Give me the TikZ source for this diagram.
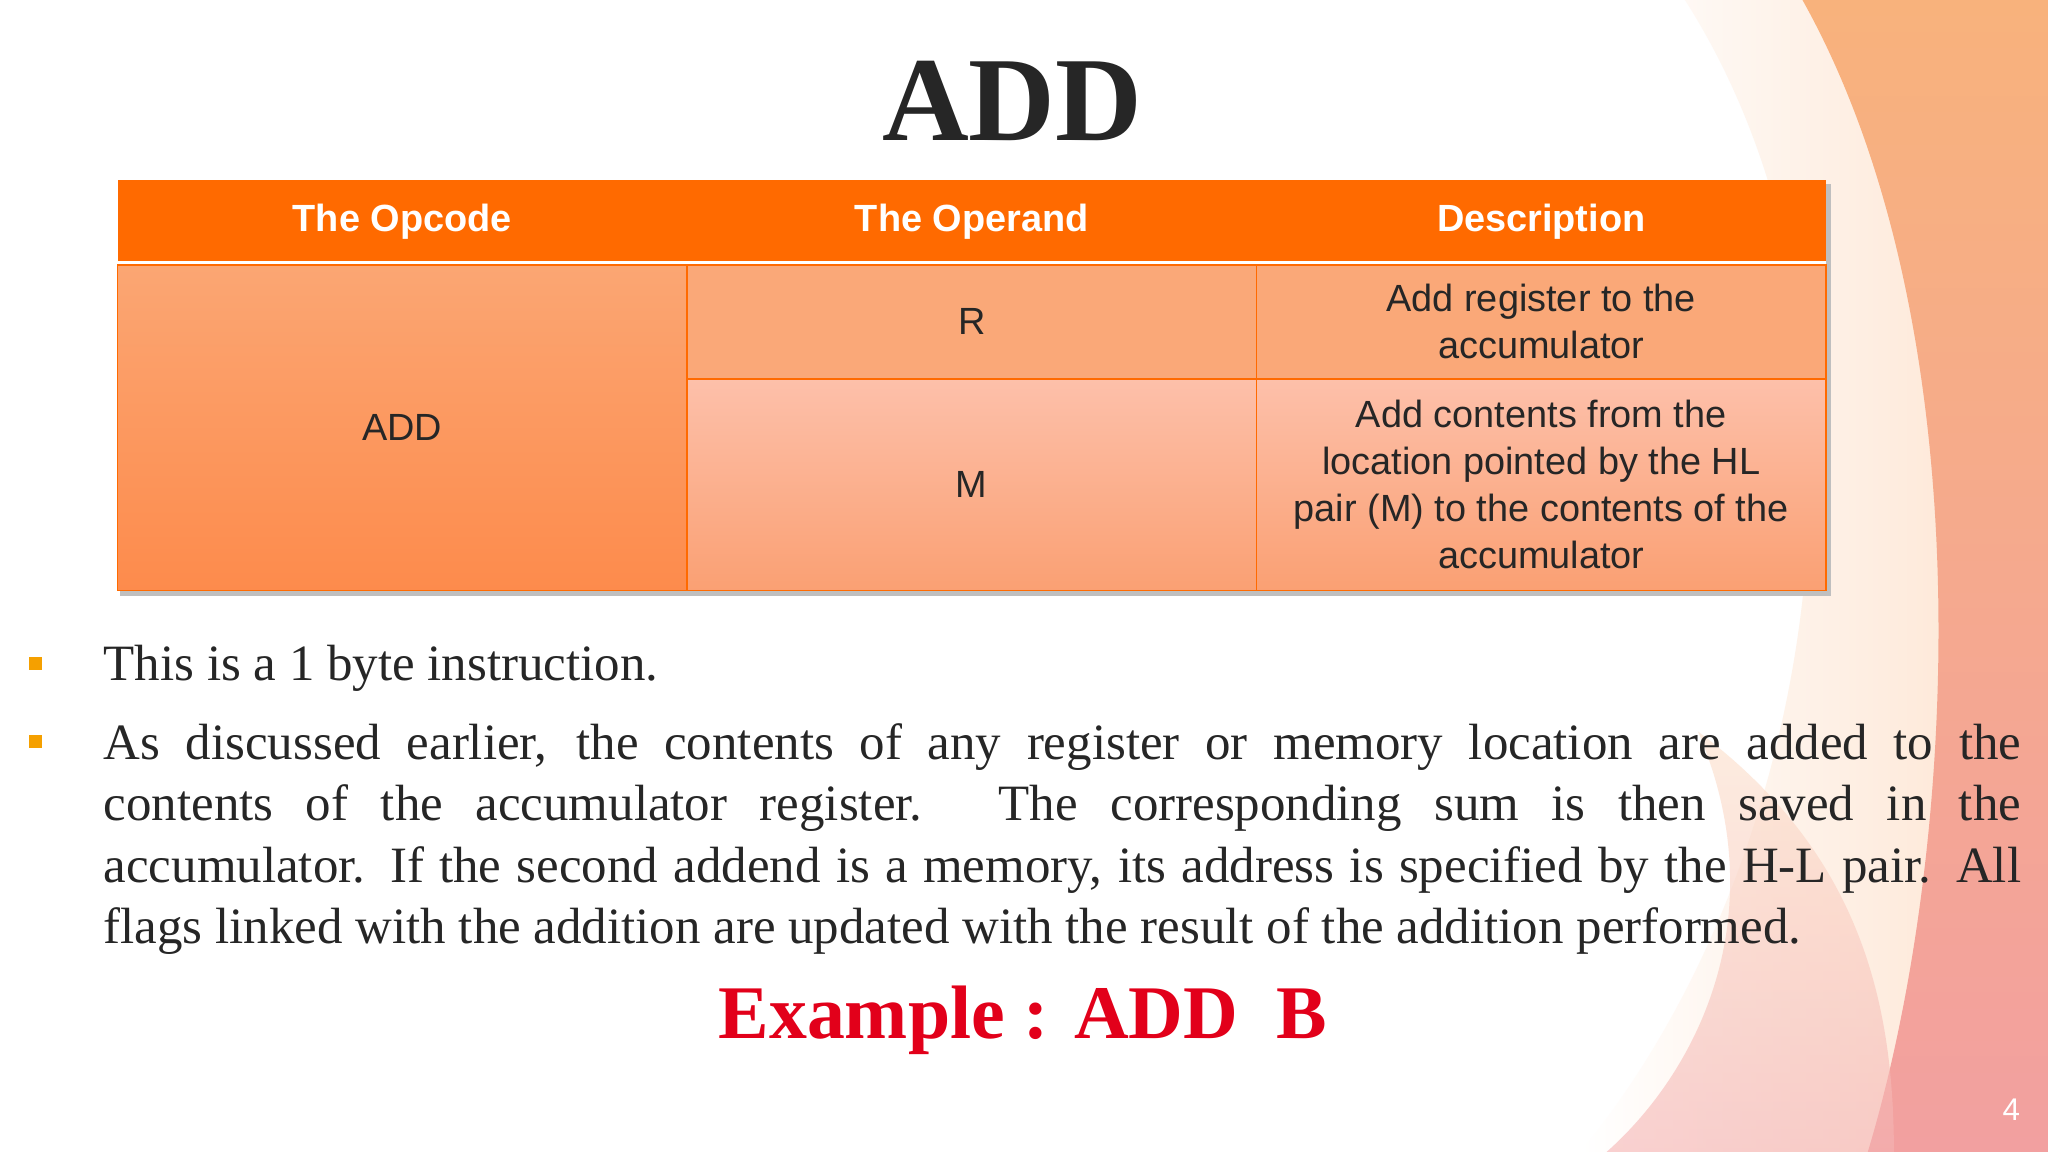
\documentclass[tikz,border=0pt]{standalone}
\usepackage{fontspec}
\setmainfont{Liberation Serif}
\newfontfamily\hsans{Liberation Sans}
\definecolor{hdr}{HTML}{FF6A00}
\definecolor{peach}{HTML}{FDE3CF}
\definecolor{deep}{HTML}{F8B27C}
\definecolor{pinkb}{HTML}{F2A0A0}
\definecolor{exred}{HTML}{E2001A}
\definecolor{bul}{HTML}{F5A000}
\definecolor{aT}{HTML}{FBA673}
\definecolor{aB}{HTML}{FD8B4C}
\definecolor{rC}{HTML}{FAA878}
\definecolor{mT}{HTML}{FDC0AA}
\definecolor{mB}{HTML}{FAA073}
\tikzset{
  cell/.style={draw=hdr, line width=0.6pt},
  celltext/.style={font=\hsans\fontsize{14.5}{18}\selectfont, text=black!85, align=center},
  headtext/.style={font=\hsans\bfseries\fontsize{14.5}{18}\selectfont, text=white},
  body/.style={font=\fontsize{19.5}{23.5}\selectfont, anchor=west, inner sep=0pt, text=black!85},
  bullet/.style={fill=bul, minimum size=5pt, inner sep=0pt}
}
\begin{document}
\begin{tikzpicture}[x=0.5pt,y=-0.5pt]
\useasboundingbox (0,0) rectangle (1568,882);
\fill[white] (0,0) rectangle (1568,882);
% background decoration
\shade[left color=white, right color=peach] (1290,0) .. controls (1450,250) and (1400,650) .. (1210,882) -- (1568,882) -- (1568,0) -- cycle;
\shade[top color=deep, bottom color=pinkb] (1380,0) .. controls (1520,250) and (1500,650) .. (1430,882) -- (1568,882) -- (1568,0) -- cycle;
\shade[top color=white!60!deep, bottom color=pinkb!80!white, opacity=0.6] (1300,560) .. controls (1360,700) and (1300,820) .. (1230,882) -- (1450,882) .. controls (1450,760) and (1420,650) .. (1300,560) -- cycle;
% title
\node[font=\bfseries\fontsize{46}{50}\selectfont, text=black!85] (title) at (775,77) {ADD};
% table shadow
\fill[black!25] (92,141) rectangle (1402,456);
% header
\fill[hdr] (90,138) rectangle (1398,200);
\fill[white] (90,200) rectangle (1398,203);
% body cells
\shade[top color=aT, bottom color=aB] (90,203) rectangle (526,452);
\fill[rC] (526,203) rectangle (1398,290);
\shade[top color=mT, bottom color=mB] (526,290) rectangle (1398,452);
\draw[cell] (90,203) rectangle (1398,452);
\draw[cell] (526,203) -- (526,452);
\draw[cell] (962,203) -- (962,452);
\draw[cell] (526,290) -- (1398,290);
% header text
\node[headtext] (h1) at (308,170) {The Opcode};
\node[headtext] (h2) at (744,170) {The Operand};
\node[headtext] (h3) at (1180,170) {Description};
% cells text
\node[celltext] (c1) at (308,327) {ADD};
\node[celltext] (c2) at (744,246) {R};
\node[celltext] (c3) at (744,371) {M};
\node[celltext] (c4) at (1180,246) {Add register to the\\accumulator};
\node[celltext] (c5) at (1180,371) {Add contents from the\\location pointed by the HL\\pair (M) to the contents of the\\accumulator};
% bullets
\node[bullet] (b1) at (27,508) {};
\node[bullet] (b2) at (27,568) {};
\node[body] (t1) at (79,512) {This is a 1 byte instruction.};
\node[body] (t2) at (79,572) {\makebox[734pt][s]{As discussed earlier, the contents of any register or memory location are added to the}};
\node[body] (t3) at (79,619) {\makebox[734pt][s]{contents of the accumulator register. The corresponding sum is then saved in the}};
\node[body] (t4) at (79,666) {\makebox[734pt][s]{accumulator. If the second addend is a memory, its address is specified by the H-L pair. All}};
\node[body] (t5) at (79,713) {flags linked with the addition are updated with the result of the addition performed.};
% example
\node[font=\bfseries\fontsize{29}{33}\selectfont, text=exred] (ex) at (783,781) {Example : ADD\ \ B};
% page number
\node[font=\hsans\fontsize{12}{14}\selectfont, text=white] (pg) at (1540,850) {4};
\end{tikzpicture}
\end{document}
